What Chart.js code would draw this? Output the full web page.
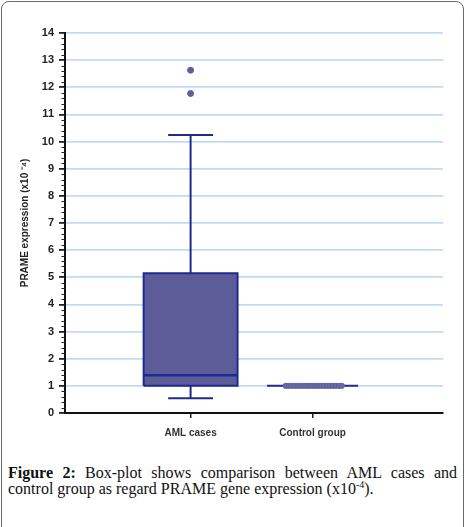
<!DOCTYPE html>
<html>
<head>
<meta charset="utf-8">
<script src="https://cdn.jsdelivr.net/npm/chart.js@4/dist/chart.umd.min.js"></script>
<style>
  html, body { margin: 0; padding: 0; background: #fff; }
  body { width: 465px; height: 527px; position: relative; overflow: hidden; }
  .frame { position: absolute; left: 1px; top: 1px; width: 461px; height: 532px; border: 1px solid #6a6a6a; border-radius: 8px; }
  .plot { position: absolute; left: 0; top: 0; width: 465px; height: 445px; }
  .caption { position: absolute; left: 8px; top: 465px; width: 449px; font-family: 'Liberation Serif', serif; font-size: 16px; line-height: 16px; color: #111; }
  .caption .l1 { text-align: justify; text-align-last: justify; }
  .caption sup { font-size: 10px; line-height: 0; }
</style>
</head>
<body>
<div class="frame"></div>
<div class="plot"><canvas id="boxChart"></canvas></div>
<div class="caption">
  <div class="l1"><b>Figure 2:</b> Box-plot shows comparison between AML cases and</div>
  <div>control group as regard PRAME gene expression (x10<sup>-4</sup>).</div>
</div>
<script>
// valeurs (x10^-4)
const categories = ['AML cases', 'Control group'];
const lowWhisker = [0.54, 1.0];
const q1 = [1.0, 1.0];
const median = [1.39, 1.0];
const q3 = [5.15, 1.0];
const highWhisker = [10.24, 1.0];
const amlOutliers = [11.77, 12.63];
const controlValues = [1.0, 1.0, 1.0, 1.0, 1.0, 1.0, 1.0, 1.0, 1.0, 1.0,
                       1.0, 1.0, 1.0, 1.0, 1.0, 1.0, 1.0, 1.0, 1.0, 1.0];
const yTicks = [0, 1, 2, 3, 4, 5, 6, 7, 8, 9, 10, 11, 12, 13, 14];

const navy = '#1f2a8f';
const boxFill = '#5c5c99';
const halfBox = [0.385, 0.373];
const halfCap = 0.184;

function seg(x1, y1, x2, y2, w) {
    return {
        data: [{ x: x1, y: y1 }, { x: x2, y: y2 }],
        showLine: true, borderColor: navy, borderWidth: w || 2,
        pointRadius: 0, fill: false, order: 1
    };
}

const datasets = [];
categories.forEach(function(cat, i) {
    const x = i + 1;
    const h = halfBox[i];
    // boite (dessinee sous les autres traits)
    datasets.push({
        data: [
            { x: x - h, y: q1[i] }, { x: x - h, y: q3[i] },
            { x: x + h, y: q3[i] }, { x: x + h, y: q1[i] },
            { x: x - h, y: q1[i] }
        ],
        showLine: true, fill: 'shape', backgroundColor: boxFill,
        borderColor: navy, borderWidth: 2, pointRadius: 0, order: 5
    });
    if (q3[i] > q1[i]) {
        datasets.push(seg(x - h, median[i], x + h, median[i], 2.5));
        datasets.push(seg(x, q3[i], x, highWhisker[i]));
        datasets.push(seg(x - halfCap, highWhisker[i], x + halfCap, highWhisker[i]));
        datasets.push(seg(x, q1[i], x, lowWhisker[i]));
        datasets.push(seg(x - halfCap, lowWhisker[i], x + halfCap, lowWhisker[i]));
    }
});

datasets.push({
    data: amlOutliers.map(v => ({ x: 1, y: v })),
    pointRadius: 3, backgroundColor: '#5e5e9c', borderColor: '#5e5e9c', showLine: false, order: 0
});

// points du groupe controle, etales horizontalement
const spread = 0.24;
datasets.push({
    data: controlValues.map((v, k) => ({
        x: 2 - 0.22 + (k * (0.22 + spread)) / (controlValues.length - 1), y: v
    })),
    pointRadius: 2.6, backgroundColor: '#6a6aa6', borderColor: '#5d5d9e', borderWidth: 1, showLine: false, order: 0
});

const minorTicks = {
    id: 'minorTicks',
    afterDraw(chart) {
        const y = chart.scales.y;
        const ctx = chart.ctx;
        ctx.save();
        ctx.strokeStyle = '#222';
        ctx.lineWidth = 1;
        for (let i = 1; i < 70; i++) {
            if (i % 5 === 0) continue;
            const py = Math.round(y.getPixelForValue(i / 5)) + 0.5;
            ctx.beginPath();
            ctx.moveTo(y.right - 3.5, py);
            ctx.lineTo(y.right, py);
            ctx.stroke();
        }
        ctx.restore();
    }
};

new Chart(document.getElementById('boxChart'), {
    type: 'scatter',
    data: { datasets: datasets },
    options: {
        responsive: true,
        maintainAspectRatio: false,
        animation: false,
        layout: { padding: { left: 12, right: 22, top: 33, bottom: 0 } },
        plugins: { legend: { display: false }, tooltip: { enabled: false } },
        scales: {
            x: {
                type: 'linear',
                min: -0.03,
                max: 3.07,
                afterBuildTicks: function(scale) {
                    scale.ticks = categories.map((c, i) => ({ value: i + 1 }));
                },
                afterFit: function(scale) { scale.height = 32; },
                ticks: {
                    callback: function(value) { return categories[value - 1]; },
                    font: { family: 'Liberation Sans', size: 10, weight: 'bold' },
                    color: '#333',
                    padding: 9
                },
                grid: { drawOnChartArea: false, drawTicks: true, tickLength: 5, tickColor: '#222', lineWidth: 1.5 },
                border: { display: true, color: '#111', width: 2 }
            },
            y: {
                min: 0,
                max: 14,
                afterBuildTicks: function(scale) {
                    scale.ticks = yTicks.map(v => ({ value: v }));
                },
                afterFit: function(scale) { scale.width = 53; },
                ticks: {
                    font: { family: 'Liberation Sans', size: 11, weight: 'bold' },
                    color: '#222',
                    padding: 5
                },
                grid: {
                    color: function(ctx) { return ctx.tick && ctx.tick.value === 0 ? 'rgba(0,0,0,0)' : '#c2daf6'; },
                    lineWidth: 1.8,
                    tickColor: '#222',
                    tickLength: 6
                },
                border: { display: true, color: '#111', width: 2 },
                title: {
                    display: true,
                    text: 'PRAME expression (x10 \u207B\u2074)',
                    font: { family: 'Liberation Sans', size: 10, weight: 'bold' },
                    color: '#222',
                    padding: { top: 7, bottom: 0 }
                }
            }
        }
    },
    plugins: [minorTicks]
});
</script>
</body>
</html>
